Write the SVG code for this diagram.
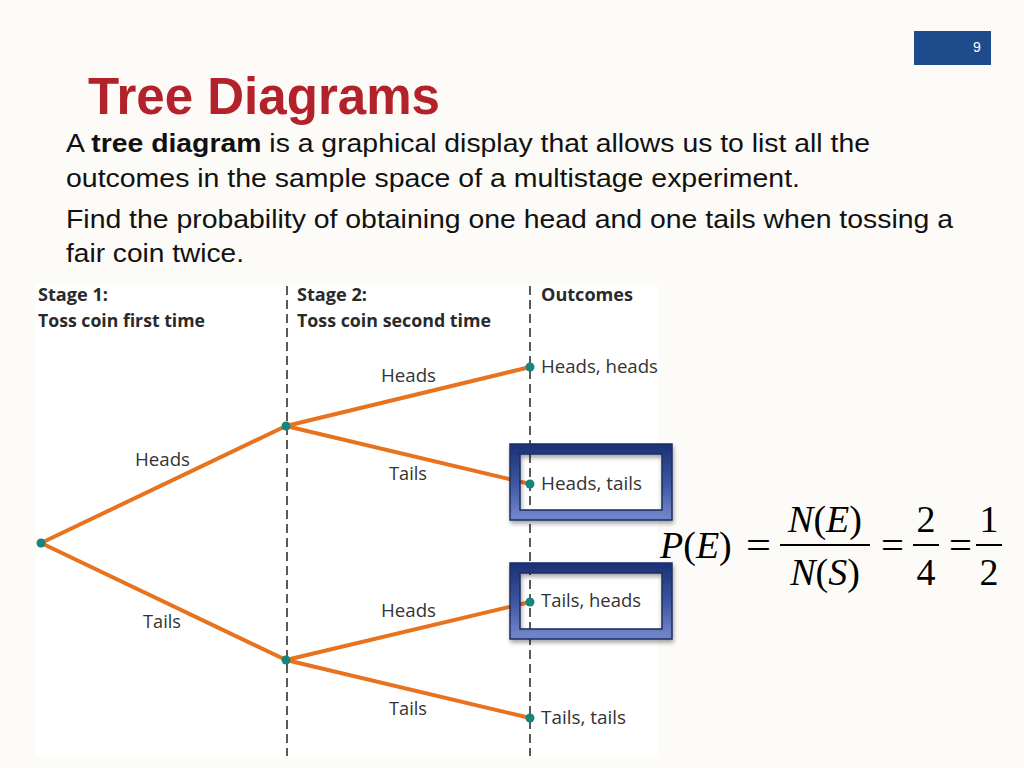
<svg xmlns="http://www.w3.org/2000/svg" width="1024" height="768" viewBox="0 0 1024 768">
  <style>
    .title { font-family: "Liberation Sans", Arial, sans-serif; font-weight: bold; font-size: 51px; fill: #B3222A; }
    .body { font-family: "Liberation Sans", Arial, sans-serif; font-size: 25px; fill: #111; }
    .stage { font-family: "Open Sans", Lato, sans-serif; font-weight: bold; font-size: 17px; fill: #2a2a2a; }
    .lbl { font-family: "Open Sans", Lato, sans-serif; font-size: 18px; fill: #333; }
    .math { font-family: "Liberation Serif", "Times New Roman", serif; font-size: 38px; fill: #000; }
    .edge { stroke: #E8731E; stroke-width: 4; fill: none; stroke-linecap: round; }
    .dash { stroke: #5a5a5a; stroke-width: 2; stroke-dasharray: 9 5; fill: none; }
    .dot { fill: #16857D; }
    .frame-ring { fill: none; stroke: url(#frameGrad); stroke-width: 10; }
    .frame-edge { fill: none; stroke: #1B2E63; stroke-width: 1.5; }
    .bar { stroke: #000; stroke-width: 2; }
  </style>
  <defs>
    <linearGradient id="frameGrad" x1="0" y1="0" x2="0" y2="1">
      <stop offset="0" stop-color="#1F367A"/>
      <stop offset="0.5" stop-color="#3C55A0"/>
      <stop offset="1" stop-color="#6F83C6"/>
    </linearGradient>
    <filter id="shadow" x="-10%" y="-10%" width="130%" height="140%">
      <feDropShadow dx="1" dy="3" stdDeviation="2" flood-color="#000" flood-opacity="0.35"/>
    </filter>
  </defs>

  <rect x="0" y="0" width="1024" height="768" fill="#FCFBF7"/>

  <!-- page number -->
  <g id="page-number">
    <rect x="914" y="31" width="77" height="34" fill="#1E4B8C"/>
    <text x="977" y="52" font-family="Liberation Sans, Arial, sans-serif" font-size="14" fill="#fff" text-anchor="middle">9</text>
  </g>

  <!-- title and body -->
  <g id="title">
    <text class="title" x="88" y="114" textLength="352" lengthAdjust="spacingAndGlyphs">Tree Diagrams</text>
  </g>
  <g id="body-text">
    <text class="body" x="66" y="152" textLength="804" lengthAdjust="spacingAndGlyphs">A <tspan font-weight="bold">tree diagram</tspan> is a graphical display that allows us to list all the</text>
    <text class="body" x="66" y="187" textLength="734" lengthAdjust="spacingAndGlyphs">outcomes in the sample space of a multistage experiment.</text>
    <text class="body" x="66" y="228" textLength="887" lengthAdjust="spacingAndGlyphs">Find the probability of obtaining one head and one tails when tossing a</text>
    <text class="body" x="66" y="262" textLength="178" lengthAdjust="spacingAndGlyphs">fair coin twice.</text>
  </g>

  <!-- diagram panel -->
  <rect x="36" y="285" width="622" height="471" fill="#FFFFFF"/>

  <g id="headers">
    <text class="stage" x="38" y="301" textLength="70" lengthAdjust="spacingAndGlyphs">Stage 1:</text>
    <text class="stage" x="38" y="327" textLength="167" lengthAdjust="spacingAndGlyphs">Toss coin first time</text>
    <text class="stage" x="297" y="301" textLength="70" lengthAdjust="spacingAndGlyphs">Stage 2:</text>
    <text class="stage" x="297" y="327" textLength="194" lengthAdjust="spacingAndGlyphs">Toss coin second time</text>
    <text class="stage" x="541" y="301" textLength="92" lengthAdjust="spacingAndGlyphs">Outcomes</text>
  </g>

  <g id="connectors">
    <line class="dash" x1="287" y1="286" x2="287" y2="756"/>
    <line class="dash" x1="530" y1="286" x2="530" y2="756"/>
    <line class="edge" x1="41" y1="543" x2="286" y2="426"/>
    <line class="edge" x1="41" y1="543" x2="286" y2="660"/>
    <line class="edge" x1="286" y1="426" x2="530" y2="367"/>
    <line class="edge" x1="286" y1="426" x2="530" y2="484"/>
    <line class="edge" x1="286" y1="660" x2="530" y2="602"/>
    <line class="edge" x1="286" y1="660" x2="530" y2="718"/>
    <text class="lbl" x="135" y="466" textLength="55" lengthAdjust="spacingAndGlyphs">Heads</text>
    <text class="lbl" x="143" y="628" textLength="38" lengthAdjust="spacingAndGlyphs">Tails</text>
    <text class="lbl" x="381" y="382" textLength="55" lengthAdjust="spacingAndGlyphs">Heads</text>
    <text class="lbl" x="389" y="480" textLength="38" lengthAdjust="spacingAndGlyphs">Tails</text>
    <text class="lbl" x="381" y="617" textLength="55" lengthAdjust="spacingAndGlyphs">Heads</text>
    <text class="lbl" x="389" y="715" textLength="38" lengthAdjust="spacingAndGlyphs">Tails</text>
  </g>

  <g id="node-root"><circle class="dot" cx="41" cy="543" r="4.5"/></g>
  <g id="node-h"><circle class="dot" cx="286" cy="426" r="4.5"/></g>
  <g id="node-t"><circle class="dot" cx="286" cy="660" r="4.5"/></g>
  <g id="node-hh">
    <circle class="dot" cx="530" cy="367" r="4.5"/>
    <text class="lbl" x="541" y="373" textLength="117" lengthAdjust="spacingAndGlyphs">Heads, heads</text>
  </g>
  <g id="node-ht">
    <circle class="dot" cx="530" cy="484" r="4.5"/>
    <text class="lbl" x="541" y="490" textLength="101" lengthAdjust="spacingAndGlyphs">Heads, tails</text>
  </g>
  <g id="node-th">
    <circle class="dot" cx="530" cy="602" r="4.5"/>
    <text class="lbl" x="541" y="607" textLength="100" lengthAdjust="spacingAndGlyphs">Tails, heads</text>
  </g>
  <g id="node-tt">
    <circle class="dot" cx="530" cy="718" r="4.5"/>
    <text class="lbl" x="541" y="724" textLength="85" lengthAdjust="spacingAndGlyphs">Tails, tails</text>
  </g>

  <!-- highlight frames -->
  <g id="frame-ht" filter="url(#shadow)">
    <rect class="frame-ring" x="515" y="449" width="152" height="66"/>
    <rect class="frame-edge" x="510" y="444" width="162" height="76"/>
    <rect class="frame-edge" x="520" y="454" width="142" height="56"/>
  </g>
  <g id="frame-th" filter="url(#shadow)">
    <rect class="frame-ring" x="515" y="568" width="152" height="66"/>
    <rect class="frame-edge" x="510" y="563" width="162" height="76"/>
    <rect class="frame-edge" x="520" y="573" width="142" height="56"/>
  </g>

  <!-- formula -->
  <g id="formula">
    <text class="math" x="660" y="558"><tspan font-style="italic">P</tspan>(<tspan font-style="italic">E</tspan>)</text>
    <text class="math" x="746" y="558" textLength="25" lengthAdjust="spacingAndGlyphs">=</text>
    <text class="math" x="825" y="532" text-anchor="middle"><tspan font-style="italic">N</tspan>(<tspan font-style="italic">E</tspan>)</text>
    <line class="bar" x1="780" y1="545" x2="870" y2="545"/>
    <text class="math" x="825" y="585" text-anchor="middle"><tspan font-style="italic">N</tspan>(<tspan font-style="italic">S</tspan>)</text>
    <text class="math" x="881" y="558" textLength="23" lengthAdjust="spacingAndGlyphs">=</text>
    <text class="math" x="926" y="532" text-anchor="middle">2</text>
    <line class="bar" x1="913" y1="545" x2="939" y2="545"/>
    <text class="math" x="926" y="585" text-anchor="middle">4</text>
    <text class="math" x="949" y="558" textLength="23" lengthAdjust="spacingAndGlyphs">=</text>
    <text class="math" x="989" y="532" text-anchor="middle">1</text>
    <line class="bar" x1="976" y1="545" x2="1002" y2="545"/>
    <text class="math" x="989" y="585" text-anchor="middle">2</text>
  </g>
</svg>
